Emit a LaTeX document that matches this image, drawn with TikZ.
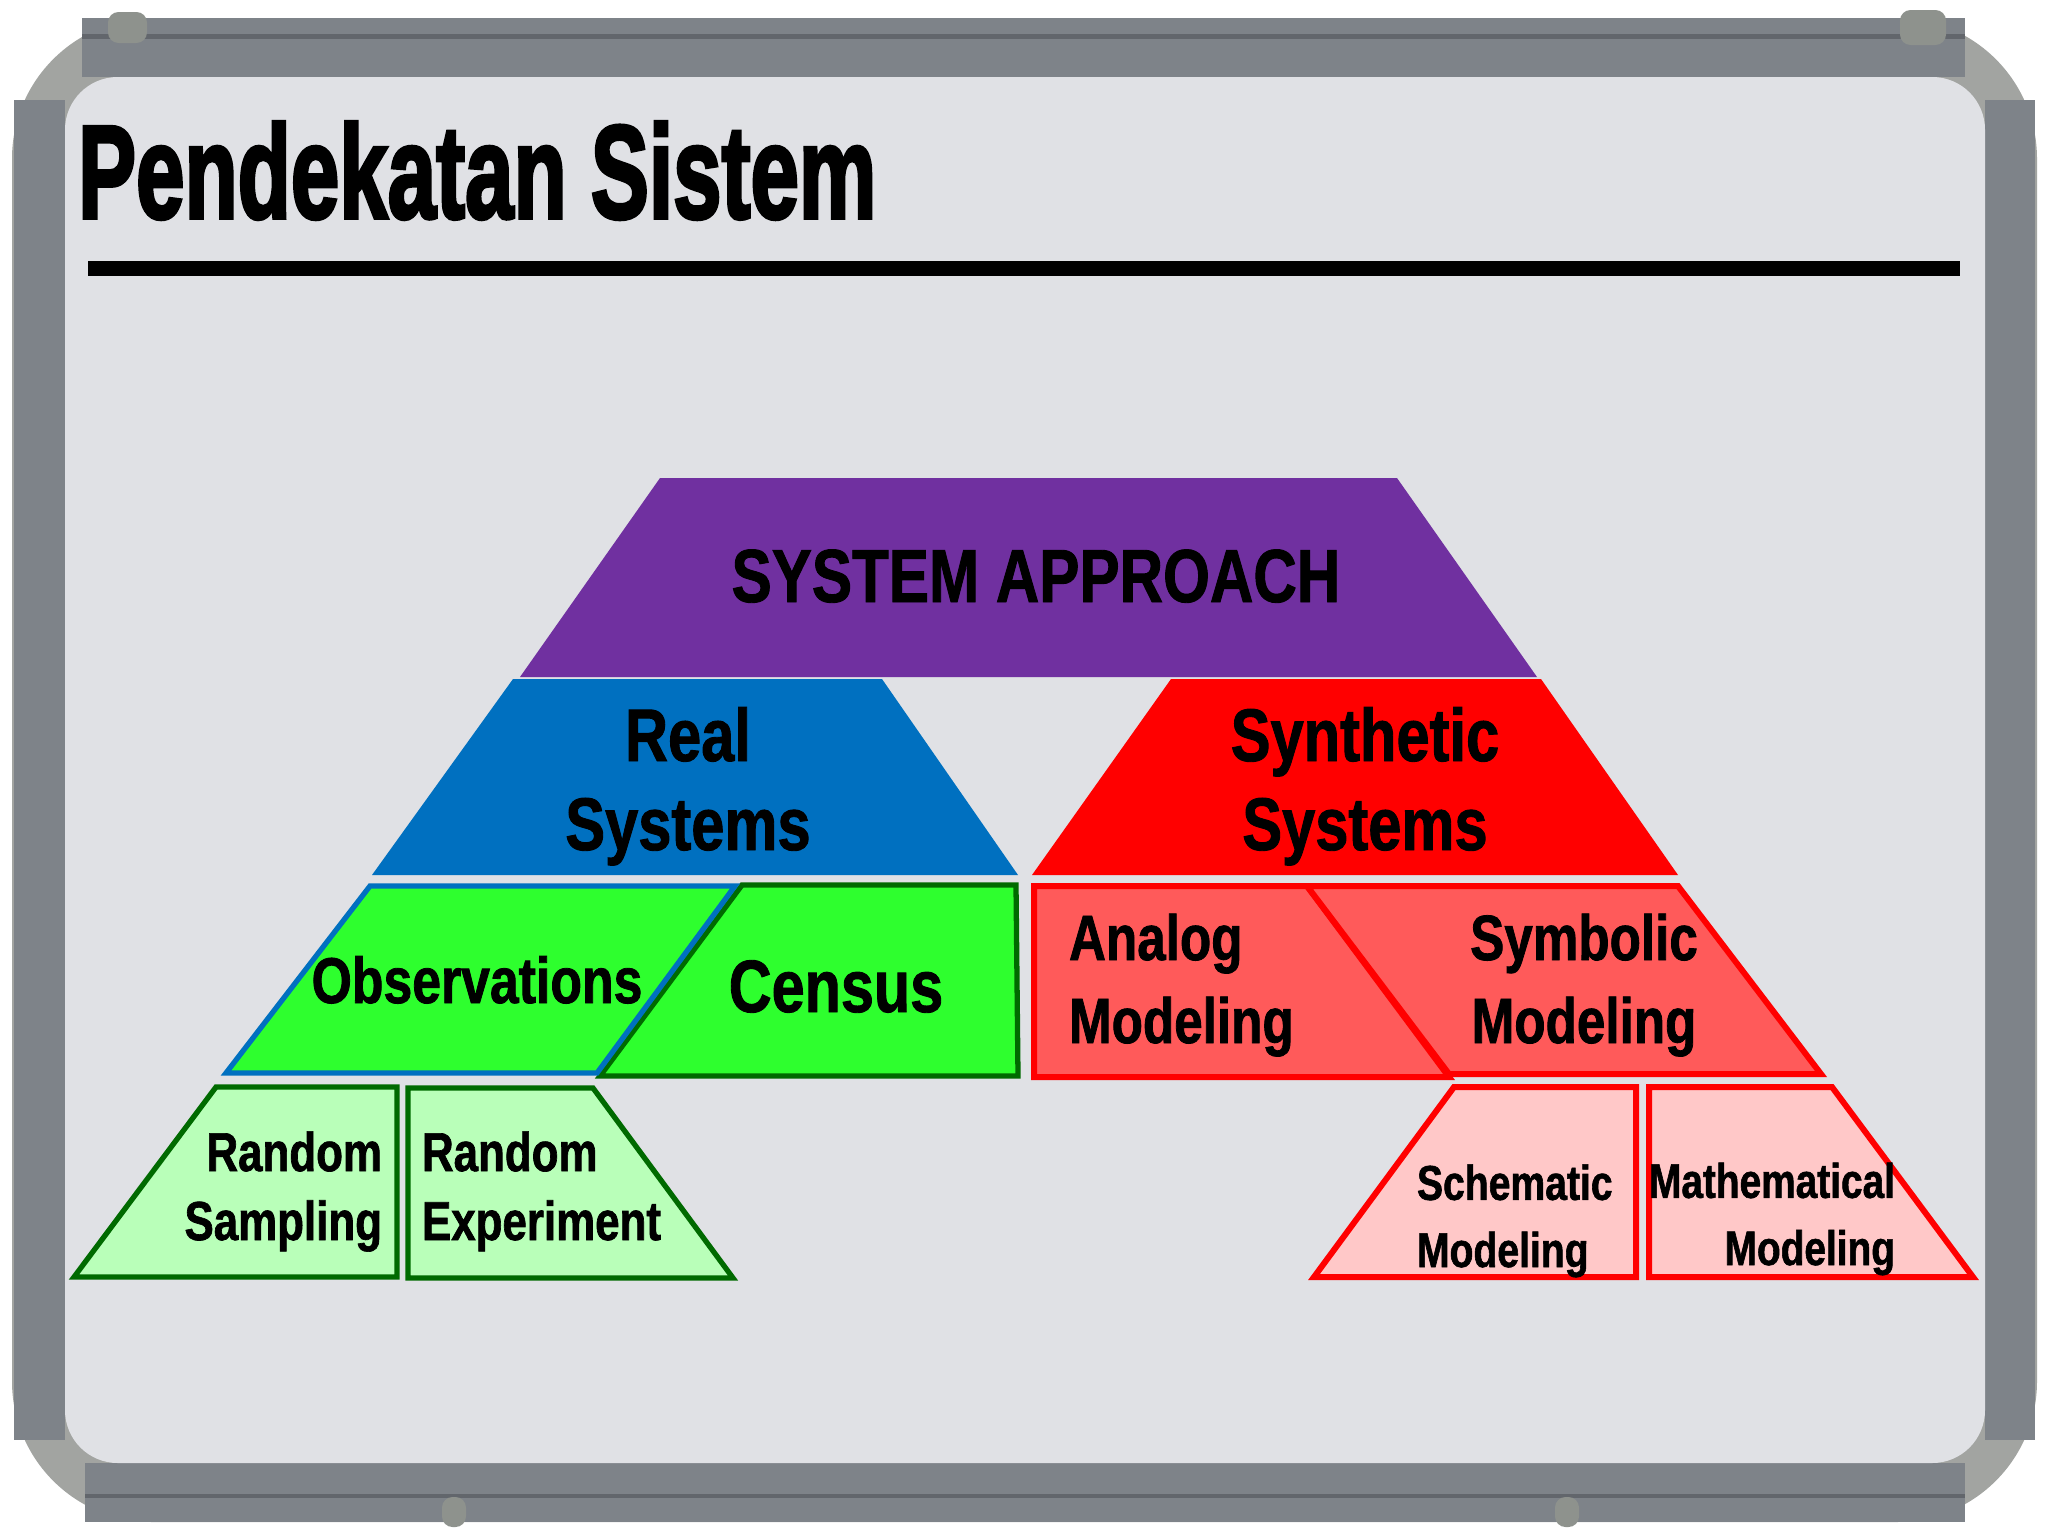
\documentclass[tikz,border=0pt]{standalone}
\usepackage{fontspec}
\usepackage{graphicx}
\newfontfamily\boardfont[FakeStretch=0.8,FakeBold=1.2]{Liberation Sans}
\newfontfamily\headfont[FakeBold=3]{Liberation Sans}
\definecolor{BoardGrey}{HTML}{E0E1E5}
\definecolor{CapGrey}{HTML}{A2A4A1}
\definecolor{BarGrey}{HTML}{7E8389}
\definecolor{BarDark}{HTML}{62666C}
\definecolor{ClipGrey}{HTML}{8E928D}
\definecolor{ApproachPurple}{HTML}{7030A0}
\definecolor{RealBlue}{HTML}{0070C0}
\definecolor{SynthRed}{HTML}{FF0000}
\definecolor{FieldGreen}{HTML}{2EFF2E}
\definecolor{LeafGreen}{HTML}{B9FFB9}
\definecolor{EdgeGreen}{HTML}{006A00}
\definecolor{ModelRed}{HTML}{FF5A5A}
\definecolor{LeafPink}{HTML}{FFC8C8}
\newcommand{\boardsize}[2]{\boardfont\bfseries\fontsize{#1}{#2}\selectfont}

\begin{document}
\begin{tikzpicture}[
  x=0.01cm,
  y=-0.01cm,
  lbl/.style={inner sep=0,outer sep=0,text=black,anchor=base},
  field/.style={fill=FieldGreen,draw=EdgeGreen,line width=1.5pt},
  obsfield/.style={field,draw=RealBlue},
  model/.style={fill=ModelRed,draw=SynthRed,line width=1.7pt},
  leafgreen/.style={fill=LeafGreen,draw=EdgeGreen,line width=1.5pt},
  leafpink/.style={fill=LeafPink,draw=SynthRed,line width=1.7pt},
  clip piece/.style={fill=ClipGrey,rounded corners=3}
]
  \useasboundingbox (0,0) rectangle (2048,1536);
  \fill[white] (0,0) rectangle (2048,1536);

  % whiteboard frame
  \fill[CapGrey,rounded corners=40] (12,18) rectangle (2037,1522);
  \fill[BarGrey] (82,18) rectangle (1965,77);
  \fill[BarDark] (82,34) rectangle (1965,39);
  \fill[BarGrey] (14,100) rectangle (65,1440);
  \fill[BarGrey] (1985,100) rectangle (2035,1440);
  \fill[BarGrey] (85,1463) rectangle (1965,1522);
  \fill[BarDark] (85,1494) rectangle (1965,1498);
  \fill[BoardGrey,rounded corners=15] (65,77) rectangle (1985,1463);
  \fill[clip piece] (108,12) rectangle (147,43);
  \fill[clip piece] (1900,10) rectangle (1946,45);
  \fill[clip piece] (442,1497) rectangle (466,1527);
  \fill[clip piece] (1555,1497) rectangle (1579,1527);

  % heading
  \node[lbl,anchor=base west] (title) at (78,218)
    {\resizebox{7.98cm}{0.96cm}{\headfont\bfseries Pendekatan Sistem}};
  \fill[black] (88,261) rectangle (1960,276);

  % top tier
  \fill[ApproachPurple] (660,478) -- (1397,478) -- (1537,677) -- (520,677) -- cycle;
  \node[lbl,font=\boardsize{21.4}{25}] (approach) at (1036,602) {SYSTEM APPROACH};

  % second tier
  \fill[RealBlue] (513,679) -- (882,679) -- (1018,875) -- (372,875) -- cycle;
  \fill[SynthRed] (1171,679) -- (1541,679) -- (1678,875) -- (1032,875) -- cycle;
  \node[lbl,align=center,font=\boardsize{21.2}{25.3}] (real) at (688,850) {Real\\Systems};
  \node[lbl,align=center,font=\boardsize{21.2}{25.3}] (synth) at (1365,850) {Synthetic\\Systems};

  % third tier
  \draw[field] (742,885) -- (1016,885) -- (1018,1076) -- (600,1076) -- cycle;
  \draw[obsfield] (370,886) -- (735,886) -- (597,1073) -- (226,1073) -- cycle;
  \draw[model] (1034,886) -- (1307,886) -- (1449,1077) -- (1034,1077) -- cycle;
  \draw[model] (1307,886) -- (1678,886) -- (1821,1074) -- (1449,1074) -- cycle;
  \node[lbl,font=\boardsize{18.4}{22}] (obs) at (477,1003) {Observations};
  \node[lbl,font=\boardsize{21.1}{25}] (census) at (836,1012) {Census};
  \node[lbl,anchor=base west,align=left,font=\boardsize{18.2}{23.6}] (analog) at (1069,1043) {Analog\\Modeling};
  \node[lbl,align=center,font=\boardsize{18.2}{23.6}] (symbolic) at (1584,1043) {Symbolic\\Modeling};

  % bottom tier
  \draw[leafgreen] (216,1087) -- (397,1087) -- (397,1277) -- (74,1277) -- cycle;
  \draw[leafgreen] (408,1088) -- (593,1088) -- (733,1278) -- (408,1278) -- cycle;
  \draw[leafpink] (1454,1087) -- (1636,1087) -- (1636,1277) -- (1314,1277) -- cycle;
  \draw[leafpink] (1649,1087) -- (1832,1087) -- (1973,1277) -- (1649,1277) -- cycle;
  \node[lbl,anchor=base east,align=right,font=\boardsize{15.6}{19.6}] (sampling) at (382,1240) {Random\\Sampling};
  \node[lbl,anchor=base west,align=left,font=\boardsize{15.6}{19.6}] (experiment) at (422,1240) {Random\\Experiment};
  \node[lbl,anchor=base west,align=left,font=\boardsize{13.9}{19.1}] (schematic) at (1417,1267) {Schematic\\Modeling};
  \node[lbl,anchor=base east,align=right,font=\boardsize{13.8}{19.1}] (mathematical) at (1895,1265) {Mathematical\\Modeling};
\end{tikzpicture}
\end{document}
